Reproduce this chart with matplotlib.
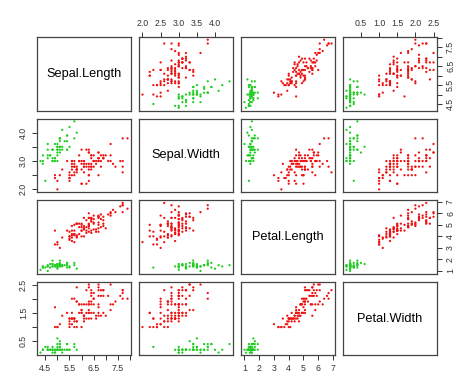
import matplotlib
matplotlib.use("Agg")
import matplotlib.pyplot as plt
import numpy as np

plt.rcParams['font.family'] = ['Liberation Sans', 'DejaVu Sans']

# Iris data (setosa, versicolor, virginica)
sepal_length = [5.1,4.9,4.7,4.6,5.0,5.4,4.6,5.0,4.4,4.9,5.4,4.8,4.8,4.3,5.8,5.7,5.4,5.1,5.7,5.1,
                5.4,5.1,4.6,5.1,4.8,5.0,5.0,5.2,5.2,4.7,4.8,5.4,5.2,5.5,4.9,5.0,5.5,4.9,4.4,5.1,
                5.0,4.5,4.4,5.0,5.1,4.8,5.1,4.6,5.3,5.0,
                7.0,6.4,6.9,5.5,6.5,5.7,6.3,4.9,6.6,5.2,5.0,5.9,6.0,6.1,5.6,6.7,5.6,5.8,6.2,5.6,
                5.9,6.1,6.3,6.1,6.4,6.6,6.8,6.7,6.0,5.7,5.5,5.5,5.8,6.0,5.4,6.0,6.7,6.3,5.6,5.5,
                5.5,6.1,5.8,5.0,5.6,5.7,5.7,6.2,5.1,5.7,
                6.3,5.8,7.1,6.3,6.5,7.6,4.9,7.3,6.7,7.2,6.5,6.4,6.8,5.7,5.8,6.4,6.5,7.7,7.7,6.0,
                6.9,5.6,7.7,6.3,6.7,7.2,6.2,6.1,6.4,7.2,7.4,7.9,6.4,6.3,6.1,7.7,6.3,6.4,6.0,6.9,
                6.7,6.9,5.8,6.8,6.7,6.7,6.3,6.5,6.2,5.9]
sepal_width = [3.5,3.0,3.2,3.1,3.6,3.9,3.4,3.4,2.9,3.1,3.7,3.4,3.0,3.0,4.0,4.4,3.9,3.5,3.8,3.8,
               3.4,3.7,3.6,3.3,3.4,3.0,3.4,3.5,3.4,3.2,3.1,3.4,4.1,4.2,3.1,3.2,3.5,3.6,3.0,3.4,
               3.5,2.3,3.2,3.5,3.8,3.0,3.8,3.2,3.7,3.3,
               3.2,3.2,3.1,2.3,2.8,2.8,3.3,2.4,2.9,2.7,2.0,3.0,2.2,2.9,2.9,3.1,3.0,2.7,2.2,2.5,
               3.2,2.8,2.5,2.8,2.9,3.0,2.8,3.0,2.9,2.6,2.4,2.4,2.7,2.7,3.0,3.4,3.1,2.3,3.0,2.5,
               2.6,3.0,2.6,2.3,2.7,3.0,2.9,2.9,2.5,2.8,
               3.3,2.7,3.0,2.9,3.0,3.0,2.5,2.9,2.5,3.6,3.2,2.7,3.0,2.5,2.8,3.2,3.0,3.8,2.6,2.2,
               3.2,2.8,2.8,2.7,3.3,3.2,2.8,3.0,2.8,3.0,2.8,3.8,2.8,2.8,2.6,3.0,3.4,3.1,3.0,3.1,
               3.1,3.1,2.7,3.2,3.3,3.0,2.5,3.0,3.4,3.0]
petal_length = [1.4,1.4,1.3,1.5,1.4,1.7,1.4,1.5,1.4,1.5,1.5,1.6,1.4,1.1,1.2,1.5,1.3,1.4,1.7,1.5,
                1.7,1.5,1.0,1.7,1.9,1.6,1.6,1.5,1.4,1.6,1.6,1.5,1.5,1.4,1.5,1.2,1.3,1.4,1.3,1.5,
                1.3,1.3,1.3,1.6,1.9,1.4,1.6,1.4,1.5,1.4,
                4.7,4.5,4.9,4.0,4.6,4.5,4.7,3.3,4.6,3.9,3.5,4.2,4.0,4.7,3.6,4.4,4.5,4.1,4.5,3.9,
                4.8,4.0,4.9,4.7,4.3,4.4,4.8,5.0,4.5,3.5,3.8,3.7,3.9,5.1,4.5,4.5,4.7,4.4,4.1,4.0,
                4.4,4.6,4.0,3.3,4.2,4.2,4.2,4.3,3.0,4.1,
                6.0,5.1,5.9,5.6,5.8,6.6,4.5,6.3,5.8,6.1,5.1,5.3,5.5,5.0,5.1,5.3,5.5,6.7,6.9,5.0,
                5.7,4.9,6.7,4.9,5.7,6.0,4.8,4.9,5.6,5.8,6.1,6.4,5.6,5.1,5.6,6.1,5.6,5.5,4.8,5.4,
                5.6,5.1,5.1,5.9,5.7,5.2,5.0,5.2,5.4,5.1]
petal_width = [0.2,0.2,0.2,0.2,0.2,0.4,0.3,0.2,0.2,0.1,0.2,0.2,0.1,0.1,0.2,0.4,0.4,0.3,0.3,0.3,
               0.2,0.4,0.2,0.5,0.2,0.2,0.4,0.2,0.2,0.2,0.2,0.4,0.1,0.2,0.2,0.2,0.2,0.1,0.2,0.2,
               0.3,0.3,0.2,0.6,0.4,0.3,0.2,0.2,0.2,0.2,
               1.4,1.5,1.5,1.3,1.5,1.3,1.6,1.0,1.3,1.4,1.0,1.5,1.0,1.4,1.3,1.4,1.5,1.0,1.5,1.1,
               1.8,1.3,1.5,1.2,1.3,1.4,1.4,1.7,1.5,1.0,1.1,1.0,1.2,1.6,1.5,1.6,1.5,1.3,1.3,1.3,
               1.2,1.4,1.2,1.0,1.3,1.2,1.3,1.3,1.1,1.3,
               2.5,1.9,2.1,1.8,2.2,2.1,1.7,1.8,1.8,2.5,2.0,1.9,2.1,2.0,2.4,2.3,1.8,2.2,2.3,1.5,
               2.3,2.0,2.0,1.8,2.1,1.8,1.8,1.8,2.1,1.6,1.9,2.0,2.2,1.5,1.4,2.3,2.4,1.8,1.8,2.1,
               2.4,2.3,1.9,2.3,2.5,2.3,1.9,2.0,2.3,1.8]
species = ['setosa'] * 50 + ['versicolor'] * 50 + ['virginica'] * 50

var_names = ["Sepal.Length", "Sepal.Width", "Petal.Length", "Petal.Width"]
tick_values = [[4.5, 5.0, 5.5, 6.0, 6.5, 7.0, 7.5, 8.0],
               [2.0, 2.5, 3.0, 3.5, 4.0],
               [1, 2, 3, 4, 5, 6, 7],
               [0.5, 1.0, 1.5, 2.0, 2.5]]
# labels shown on horizontal axes / vertical axes
xtick_labels = [["4.5", "", "5.5", "", "6.5", "", "7.5", ""],
                ["2.0", "2.5", "3.0", "3.5", "4.0"],
                ["1", "2", "3", "4", "5", "6", "7"],
                ["0.5", "1.0", "1.5", "2.0", "2.5"]]
ytick_labels = [["4.5", "", "5.5", "", "6.5", "", "7.5", ""],
                ["2.0", "", "3.0", "", "4.0"],
                ["1", "2", "3", "4", "5", "6", "7"],
                ["0.5", "", "1.5", "", "2.5"]]

data = [np.array(sepal_length), np.array(sepal_width), np.array(petal_length), np.array(petal_width)]
color_map = {'setosa': '#22cc22', 'versicolor': '#ee1111', 'virginica': '#ee1111'}
colors = [color_map[s] for s in species]

W, H = 474, 392
fig = plt.figure(figsize=(W / 100, H / 100), dpi=100)
fig.patch.set_facecolor('white')

left0, pw, gx = 37, 94, 8
top0, ph, gy = 37, 73.5, 8.1
frame_col = '#444444'
tick_col = '#333333'

def lims(v):
    lo, hi = v.min(), v.max()
    d = (hi - lo) * 0.04
    return lo - d, hi + d

for i in range(4):       # row -> y variable
    for j in range(4):   # col -> x variable
        x0 = left0 + j * (pw + gx)
        y0 = top0 + i * (ph + gy)
        ax = fig.add_axes([x0 / W, 1 - (y0 + ph) / H, pw / W, ph / H])
        for s in ax.spines.values():
            s.set_color(frame_col)
            s.set_linewidth(0.9)
        ax.set_xlim(*lims(data[j]))
        ax.set_ylim(*lims(data[i]))
        ax.set_xticks([])
        ax.set_yticks([])
        if i == j:
            ax.text(0.5, 0.5, var_names[i], transform=ax.transAxes,
                    ha='center', va='center', fontsize=9.2, color='black')
        else:
            ax.scatter(data[j], data[i], c=colors, s=2.6, marker='o',
                       linewidths=0, zorder=3)
        tp = dict(direction='out', length=3.5, width=0.7, color=tick_col,
                  labelsize=6.3, labelcolor='#333333', pad=3)
        # horizontal axes
        if i == 0 and j % 2 == 1:
            ax.set_xticks(tick_values[j])
            ax.set_xticklabels(xtick_labels[j])
            ax.xaxis.tick_top()
            ax.tick_params(axis='x', **tp)
        if i == 3 and j % 2 == 0:
            ax.set_xticks(tick_values[j])
            ax.set_xticklabels(xtick_labels[j])
            ax.tick_params(axis='x', **tp)
        # vertical axes
        if j == 0 and i % 2 == 1:
            ax.set_yticks(tick_values[i])
            ax.set_yticklabels(ytick_labels[i], rotation=90, va='center')
            ax.tick_params(axis='y', **tp)
        if j == 3 and i % 2 == 0:
            ax.set_yticks(tick_values[i])
            ax.set_yticklabels(ytick_labels[i], rotation=90, va='center')
            ax.yaxis.tick_right()
            ax.tick_params(axis='y', **tp)

fig.savefig("out.png", dpi=100, facecolor='white')
